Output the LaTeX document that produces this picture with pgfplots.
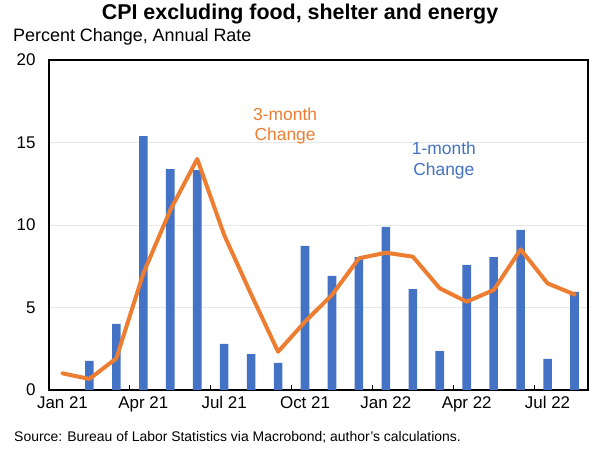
\documentclass[border=0pt]{standalone}
\usepackage{fontspec}
\setmainfont{Liberation Sans}
\usepackage{pgfplots}
\pgfplotsset{compat=1.18}
\definecolor{cblue}{HTML}{4472C4}
\definecolor{corange}{HTML}{ED7D31}
\begin{document}
\begin{tikzpicture}[x=1bp,y=1bp]
\path[use as bounding box] (0,0) rectangle (602,450);
\begin{axis}[
  at={(49bp,60bp)}, anchor=south west,
  scale only axis, width=539bp, height=330bp,
  xmin=-0.5, xmax=19.5, ymin=0, ymax=20,
  ytick={0,5,10,15,20},
  xtick={0,3,6,9,12,15,18},
  xticklabels={Jan 21,Apr 21,Jul 21,Oct 21,Jan 22,Apr 22,Jul 22},
  minor xtick={2.5,5.5,8.5,11.5,14.5,17.5},
  major tick length=0pt, minor tick length=5bp,
  minor tick style={black, line width=1bp},
  xtick pos=bottom, ytick pos=left,
  ymajorgrids, grid style={black!9, line width=0.8bp},
  axis line style={line width=1.5bp},
  tick label style={font=\fontsize{17}{19}\selectfont},
  /pgf/number format/assume math mode=true,
  xticklabel style={yshift=-3bp},
  yticklabel style={xshift=-10bp},
  clip=false,
]
\addplot[ybar, bar width=0.32, fill=cblue, draw=none] coordinates {
(1,1.76) (2,4.0) (3,15.39) (4,13.39) (5,13.33) (6,2.79) (7,2.18) (8,1.64)
(9,8.73) (10,6.91) (11,8.06) (12,9.88) (13,6.12) (14,2.36) (15,7.58)
(16,8.06) (17,9.70) (18,1.88) (19,5.94)
};
\addplot[corange, line width=4bp, line join=round, line cap=round, mark=none] coordinates {
(0,1.01) (1,0.67) (2,1.92) (3,7.07) (4,10.9) (5,14.0) (6,9.39) (7,5.8)
(8,2.32) (9,4.14) (10,5.76) (11,7.98) (12,8.32) (13,8.08) (14,6.16)
(15,5.35) (16,6.06) (17,8.52) (18,6.46) (19,5.79)
};
\node[corange, align=center, font=\fontsize{17.5}{21}\selectfont] at (axis cs:8.26,16.0) {3-month\\Change};
\node[cblue, align=center, font=\fontsize{17.5}{21}\selectfont] at (axis cs:14.15,13.9) {1-month\\Change};
\end{axis}
\node[anchor=base, font=\fontsize{21.5}{24}\selectfont\bfseries] at (300,430) {CPI excluding food, shelter and energy};
\node[anchor=base west, inner sep=0pt, font=\fontsize{18}{20}\selectfont] at (13,408) {Percent Change, Annual Rate};
\node[anchor=base west, inner sep=0pt, font=\fontsize{14}{16}\selectfont] at (14,8) {Source: Bureau of Labor Statistics via Macrobond; author's calculations.};
\end{tikzpicture}
\end{document}
